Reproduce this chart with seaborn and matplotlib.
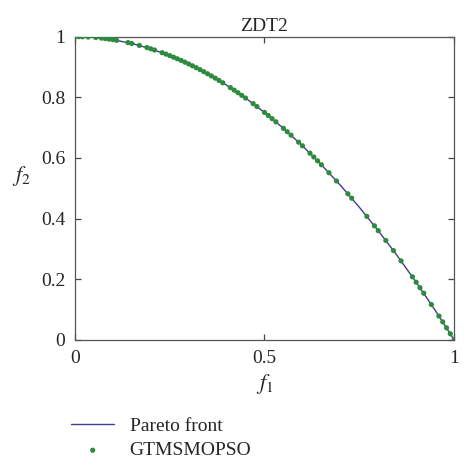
import matplotlib
matplotlib.use("Agg")
import matplotlib.pyplot as plt
import seaborn as sns
import pandas as pd

# Pareto front samples (f1, f2)
front_f1 = [0.0, 0.05, 0.1, 0.15, 0.2, 0.25, 0.3, 0.35, 0.4, 0.45, 0.5,
            0.55, 0.6, 0.65, 0.7, 0.75, 0.8, 0.85, 0.9, 0.95, 1.0]
front_f2 = [1.0, 0.9975, 0.99, 0.9775, 0.96, 0.9375, 0.91, 0.8775, 0.84, 0.7975, 0.75,
            0.6975, 0.64, 0.5775, 0.51, 0.4375, 0.36, 0.2775, 0.19, 0.0975, 0.0]

# GTMSMOPSO solutions
pts_f1 = [0.0, 0.01, 0.02, 0.035, 0.055, 0.07, 0.08, 0.09, 0.1, 0.11, 0.14, 0.15, 0.17,
          0.19, 0.2, 0.21, 0.23, 0.24, 0.25, 0.26, 0.27, 0.28, 0.29, 0.3, 0.31, 0.32,
          0.33, 0.34, 0.35, 0.36, 0.37, 0.38, 0.39, 0.41, 0.42, 0.43, 0.44, 0.45, 0.47,
          0.48, 0.5, 0.51, 0.52, 0.53, 0.55, 0.56, 0.57, 0.59, 0.6, 0.62, 0.63, 0.64,
          0.65, 0.67, 0.69, 0.72, 0.73, 0.77, 0.79, 0.8, 0.82, 0.84, 0.86, 0.89, 0.9,
          0.91, 0.92, 0.94, 0.96, 0.97, 0.98, 0.99, 1.0]
pts_f2 = [1.0, 0.9999, 0.9996, 0.9988, 0.997, 0.9951, 0.9936, 0.9919, 0.99, 0.9879, 0.9804,
          0.9775, 0.9711, 0.9639, 0.96, 0.9559, 0.9471, 0.9424, 0.9375, 0.9324, 0.9271,
          0.9216, 0.9159, 0.91, 0.9039, 0.8976, 0.8911, 0.8844, 0.8775, 0.8704, 0.8631,
          0.8556, 0.8479, 0.8319, 0.8236, 0.8151, 0.8064, 0.7975, 0.7791, 0.7696, 0.75,
          0.7399, 0.7296, 0.7191, 0.6975, 0.6864, 0.6751, 0.6519, 0.64, 0.6156, 0.6031,
          0.5904, 0.5775, 0.5511, 0.5239, 0.4816, 0.4671, 0.4071, 0.3759, 0.36, 0.3276,
          0.2944, 0.2604, 0.2079, 0.19, 0.1719, 0.1536, 0.1164, 0.0784, 0.0591, 0.0396,
          0.0199, 0.0]

sns.set_style("ticks")
plt.rcParams['font.family'] = ['Liberation Serif', 'DejaVu Serif']
plt.rcParams['mathtext.fontset'] = 'stix'

fig = plt.figure(figsize=(4.74, 4.7), dpi=100)
ax = fig.add_axes([0.158, 0.277, 0.80, 0.645])

front = pd.DataFrame({"f1": front_f1, "f2": front_f2})
pts = pd.DataFrame({"f1": pts_f1, "f2": pts_f2})

sns.lineplot(data=front, x="f1", y="f2", ax=ax, color="#3b3f8c", lw=1.0,
             label="Pareto front", sort=True)
sns.scatterplot(data=pts, x="f1", y="f2", ax=ax, color="#2e8b3e", s=14,
                edgecolor="none", label="GTMSMOPSO", zorder=3)

ax.set_xlim(0, 1)
ax.set_ylim(0, 1)
ax.set_xticks([0, 0.5, 1])
ax.set_xticklabels(["0", "0.5", "1"])
ax.set_yticks([0, 0.2, 0.4, 0.6, 0.8, 1])
ax.set_yticklabels(["0", "0.2", "0.4", "0.6", "0.8", "1"])
ax.tick_params(which="major", direction="in", top=True, right=True, labelsize=14,
               length=4, width=0.9, color="#444444", pad=7)
for sp in ax.spines.values():
    sp.set_color("#555555")
    sp.set_linewidth(0.9)
ax.set_xlabel("$f_1$", fontsize=16, labelpad=4)
ax.set_ylabel("$f_2$", fontsize=16, rotation=0, labelpad=14)
ax.set_title("ZDT2", fontsize=14, pad=4)

ax.legend(loc="upper left", bbox_to_anchor=(-0.03, -0.23), frameon=False,
          fontsize=14, handlelength=2.2, markerscale=1.0, borderaxespad=0,
          labelspacing=0.35)

fig.savefig("out.png", dpi=100)
